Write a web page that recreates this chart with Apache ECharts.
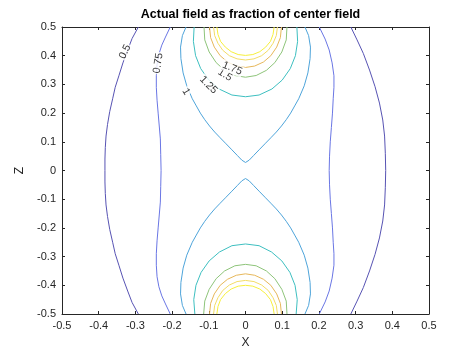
<!DOCTYPE html>
<html>
<head>
<meta charset="utf-8">
<script src="https://cdn.jsdelivr.net/npm/echarts@6/dist/echarts.min.js"></script>
<style>html,body{margin:0;padding:0;background:#fff;}#c{width:474px;height:355px;}</style>
</head>
<body>
<div id="c"></div>
<script>
// Axis ticks
const xTicks = [-0.5,-0.4,-0.3,-0.2,-0.1,0,0.1,0.2,0.3,0.4,0.5];
const zTicks = [-0.5,-0.4,-0.3,-0.2,-0.1,0,0.1,0.2,0.3,0.4,0.5];

// Contour levels
const levels = [0.5, 0.75, 1, 1.25, 1.5, 1.75, 2, 2.25];

// Contour curves, [x, z]
const c050Left = [[-0.292,0.5],[-0.309,0.46],[-0.321,0.42],[-0.334,0.375],[-0.345,0.33],[-0.355,0.29],[-0.362,0.25],[-0.37,0.205],[-0.376,0.16],[-0.38,0.12],[-0.382,0.08],[-0.383,0.04],[-0.383,0.0],[-0.383,-0.04],[-0.382,-0.08],[-0.38,-0.12],[-0.376,-0.16],[-0.37,-0.205],[-0.362,-0.25],[-0.355,-0.29],[-0.345,-0.33],[-0.334,-0.375],[-0.321,-0.42],[-0.309,-0.46],[-0.292,-0.5]];
const c050Right = [[0.287,0.5],[0.304,0.455],[0.321,0.408],[0.338,0.35],[0.353,0.292],[0.365,0.235],[0.374,0.176],[0.379,0.12],[0.381,0.06],[0.382,0.0],[0.381,-0.06],[0.379,-0.12],[0.374,-0.176],[0.365,-0.235],[0.353,-0.292],[0.338,-0.35],[0.321,-0.408],[0.304,-0.455],[0.287,-0.5]];
const c075Left = [[-0.205,0.5],[-0.218,0.465],[-0.228,0.437],[-0.236,0.405],[-0.241,0.37],[-0.243,0.33],[-0.243,0.29],[-0.241,0.245],[-0.238,0.2],[-0.235,0.155],[-0.232,0.11],[-0.231,0.055],[-0.230,0.0],[-0.231,-0.055],[-0.232,-0.11],[-0.235,-0.155],[-0.238,-0.2],[-0.241,-0.245],[-0.243,-0.29],[-0.243,-0.33],[-0.241,-0.37],[-0.236,-0.405],[-0.228,-0.437],[-0.218,-0.465],[-0.205,-0.5]];
const c075Right = [[0.201,0.5],[0.217,0.458],[0.228,0.42],[0.236,0.375],[0.241,0.33],[0.241,0.29],[0.239,0.25],[0.237,0.2],[0.234,0.15],[0.231,0.1],[0.229,0.05],[0.228,0.0],[0.229,-0.05],[0.231,-0.1],[0.234,-0.15],[0.237,-0.2],[0.239,-0.25],[0.241,-0.29],[0.241,-0.33],[0.236,-0.375],[0.228,-0.42],[0.217,-0.458],[0.201,-0.5]];
const c100Top = [[-0.162,0.5],[-0.172,0.47],[-0.177,0.43],[-0.176,0.39],[-0.17,0.34],[-0.16,0.295],[-0.145,0.25],[-0.134,0.225],[-0.123,0.2],[-0.111,0.177],[-0.098,0.155],[-0.084,0.134],[-0.069,0.114],[-0.053,0.093],[-0.037,0.072],[-0.022,0.052],[-0.01,0.036],[0,0.028],[0.01,0.036],[0.022,0.052],[0.037,0.072],[0.053,0.093],[0.069,0.114],[0.084,0.134],[0.098,0.155],[0.111,0.177],[0.123,0.2],[0.134,0.225],[0.145,0.25],[0.16,0.295],[0.17,0.34],[0.176,0.39],[0.177,0.43],[0.172,0.47],[0.162,0.5]];
const c100Bottom = [[-0.162,-0.5],[-0.172,-0.47],[-0.177,-0.43],[-0.176,-0.39],[-0.17,-0.34],[-0.16,-0.295],[-0.145,-0.25],[-0.134,-0.225],[-0.123,-0.2],[-0.111,-0.177],[-0.098,-0.155],[-0.084,-0.134],[-0.069,-0.114],[-0.053,-0.093],[-0.037,-0.072],[-0.022,-0.052],[-0.01,-0.036],[0,-0.028],[0.01,-0.036],[0.022,-0.052],[0.037,-0.072],[0.053,-0.093],[0.069,-0.114],[0.084,-0.134],[0.098,-0.155],[0.111,-0.177],[0.123,-0.2],[0.134,-0.225],[0.145,-0.25],[0.16,-0.295],[0.17,-0.34],[0.176,-0.39],[0.177,-0.43],[0.172,-0.47],[0.162,-0.5]];
const c125Top = [[-0.14,0.5],[-0.142,0.45],[-0.136,0.4],[-0.122,0.355],[-0.1,0.315],[-0.072,0.284],[-0.037,0.263],[0,0.257],[0.037,0.263],[0.072,0.284],[0.1,0.315],[0.122,0.355],[0.136,0.4],[0.142,0.45],[0.14,0.5]];
const c125Bottom = [[-0.138,-0.5],[-0.141,-0.45],[-0.135,-0.4],[-0.121,-0.355],[-0.099,-0.315],[-0.071,-0.284],[-0.037,-0.262],[0,-0.256],[0.037,-0.262],[0.071,-0.284],[0.099,-0.315],[0.121,-0.355],[0.135,-0.4],[0.141,-0.45],[0.138,-0.5]];
const c150Top = [[-0.113,0.5],[-0.111,0.455],[-0.099,0.413],[-0.08,0.376],[-0.057,0.349],[-0.029,0.331],[0,0.325],[0.029,0.331],[0.057,0.349],[0.08,0.376],[0.099,0.413],[0.111,0.455],[0.113,0.5]];
const c150Bottom = [[-0.114,-0.5],[-0.111,-0.455],[-0.099,-0.414],[-0.08,-0.377],[-0.057,-0.35],[-0.029,-0.332],[0,-0.327],[0.029,-0.332],[0.057,-0.35],[0.08,-0.377],[0.099,-0.414],[0.111,-0.455],[0.113,-0.5]];
const c175Top = [[-0.098,0.5],[-0.095,0.463],[-0.085,0.43],[-0.069,0.4],[-0.049,0.378],[-0.025,0.364],[0,0.359],[0.025,0.364],[0.049,0.378],[0.069,0.4],[0.085,0.43],[0.095,0.463],[0.098,0.5]];
const c175Bottom = [[-0.098,-0.5],[-0.095,-0.463],[-0.085,-0.43],[-0.069,-0.4],[-0.049,-0.379],[-0.025,-0.365],[0,-0.36],[0.025,-0.365],[0.049,-0.379],[0.069,-0.4],[0.085,-0.43],[0.095,-0.463],[0.098,-0.5]];
const c200Top = [[-0.087,0.5],[-0.084,0.47],[-0.075,0.443],[-0.062,0.419],[-0.044,0.4],[-0.023,0.389],[0,0.385],[0.023,0.389],[0.044,0.4],[0.062,0.419],[0.075,0.443],[0.084,0.47],[0.087,0.5]];
const c200Bottom = [[-0.087,-0.5],[-0.084,-0.47],[-0.075,-0.443],[-0.062,-0.418],[-0.044,-0.399],[-0.023,-0.387],[0,-0.383],[0.023,-0.387],[0.044,-0.399],[0.062,-0.418],[0.075,-0.443],[0.084,-0.47],[0.087,-0.5]];
const c225Top = [[-0.078,0.5],[-0.075,0.474],[-0.068,0.45],[-0.055,0.43],[-0.039,0.414],[-0.02,0.404],[0,0.401],[0.02,0.404],[0.039,0.414],[0.055,0.43],[0.068,0.45],[0.075,0.474],[0.078,0.5]];
const c225Bottom = [[-0.078,-0.5],[-0.075,-0.474],[-0.068,-0.45],[-0.055,-0.429],[-0.039,-0.413],[-0.02,-0.403],[0,-0.4],[0.02,-0.403],[0.039,-0.413],[0.055,-0.429],[0.068,-0.45],[0.075,-0.474],[0.078,-0.5]];

// Contour label texts and their positions [x, z]
const labelTexts = ['0.5', '0.75', '1', '1.25', '1.5', '1.75'];
const labelPos = [[-0.328,0.414],[-0.238,0.374],[-0.162,0.275],[-0.101,0.298],[-0.056,0.333],[-0.036,0.356]];

const labelRot = [64, 82, -58, -45, -32, -22];
const colors = {
  0.5: '#5753b3', 0.75: '#6a76e4', 1: '#4ea4da', 1.25: '#3ebfc0',
  1.5: '#8ec47a', 1.75: '#e6b75a', 2: '#f3dc66', 2.25: '#f6ef3c'
};

const curves = [
  [0.5, c050Left], [0.5, c050Right], [0.75, c075Left], [0.75, c075Right],
  [1, c100Top], [1, c100Bottom], [1.25, c125Top], [1.25, c125Bottom],
  [1.5, c150Top], [1.5, c150Bottom], [1.75, c175Top], [1.75, c175Bottom],
  [2, c200Top], [2, c200Bottom], [2.25, c225Top], [2.25, c225Bottom]
];

const FONT = 'Liberation Sans, Arial, sans-serif';
const fmt = v => { const r = Math.round(v * 10) / 10; return (r === 0 ? 0 : r).toString(); };

const series = curves.map(([lv, pts]) => ({
  type: 'line', data: pts, smooth: false, symbol: 'none', silent: true,
  clip: true, animation: false,
  lineStyle: { color: colors[lv], width: 1 }
}));

series.push({
  type: 'scatter', symbolSize: 0, silent: true, animation: false, z: 10,
  data: labelPos.map((p, i) => ({
    value: p,
    label: { show: true, formatter: labelTexts[i], rotate: labelRot[i],
      position: 'inside', color: '#000', fontSize: 10.5, fontFamily: FONT,
      backgroundColor: '#fff', padding: [0, 1] }
  }))
});

const tickCommon = { inside: true, length: 3, lineStyle: { color: '#262626' } };
const lineCommon = { show: true, onZero: false, lineStyle: { color: '#262626', width: 1 } };
const lblCommon = { color: '#262626', fontSize: 11, fontFamily: FONT, formatter: fmt };

const chart = echarts.init(document.getElementById('c'), null, { renderer: 'canvas' });
chart.setOption({
  backgroundColor: '#fff',
  animation: false,
  title: {
    text: 'Actual field as fraction of center field', left: 245.5, top: 3,
    textAlign: 'center',
    textStyle: { fontSize: 12.5, fontWeight: 'bold', color: '#000', fontFamily: FONT }
  },
  grid: { left: 62, right: 45, top: 27, bottom: 41, containLabel: false },
  xAxis: [
    { type: 'value', min: -0.5, max: 0.5, interval: 0.1, position: 'bottom',
      name: 'X', nameLocation: 'middle', nameGap: 23,
      nameTextStyle: { fontSize: 12, color: '#262626', fontFamily: FONT },
      axisLine: lineCommon, axisTick: tickCommon,
      axisLabel: Object.assign({ margin: 6 }, lblCommon), splitLine: { show: false } },
    { type: 'value', min: -0.5, max: 0.5, interval: 0.1, position: 'top',
      axisLine: lineCommon, axisTick: tickCommon, axisLabel: { show: false }, splitLine: { show: false } }
  ],
  yAxis: [
    { type: 'value', min: -0.5, max: 0.5, interval: 0.1, position: 'left',
      name: 'Z', nameLocation: 'middle', nameGap: 32, nameRotate: 90,
      nameTextStyle: { fontSize: 12, color: '#262626', fontFamily: FONT },
      axisLine: lineCommon, axisTick: tickCommon,
      axisLabel: Object.assign({ margin: 6 }, lblCommon), splitLine: { show: false } },
    { type: 'value', min: -0.5, max: 0.5, interval: 0.1, position: 'right',
      axisLine: lineCommon, axisTick: tickCommon, axisLabel: { show: false }, splitLine: { show: false } }
  ],
  series: series
});
</script>
</body>
</html>
